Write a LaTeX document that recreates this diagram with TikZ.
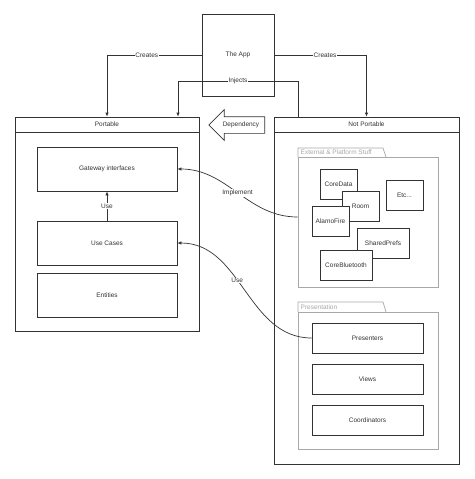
\documentclass[tikz,border=0pt]{standalone}
\usepackage{fontspec}
\setmainfont{Liberation Sans}
\usetikzlibrary{positioning}
\usetikzlibrary{arrows.meta,shapes.arrows}

\definecolor{lnc}{HTML}{333333}
\definecolor{grpc}{HTML}{A8A8A8}
\definecolor{txtc}{HTML}{333333}

\begin{document}
\begin{tikzpicture}[x=1pt,y=-1pt,
 every node/.style={font=\fontsize{6.5}{8}\selectfont,text=txtc},
 box/.style={draw=lnc,fill=white,line width=0.7pt,inner sep=0pt},
 sbox/.style={box,minimum width=37pt,minimum height=30pt},
 wbox/.style={box,minimum width=52pt,minimum height=30pt},
 pbox/.style={box,minimum width=111pt,minimum height=30pt},
 cbox/.style={box,minimum width=140pt,minimum height=44pt},
 grpbox/.style={draw=grpc,line width=0.7pt,inner sep=0pt,minimum width=140pt},
 grptab/.style={draw=grpc,line width=0.7pt},
 tablbl/.style={text=grpc,anchor=west,inner sep=0pt},
 conn/.style={draw=lnc,line width=0.7pt,-{Latex[length=4pt,width=3.5pt]}},
 lbl/.style={fill=white,inner sep=0.5pt}
]
 \useasboundingbox (0,0) rectangle (474,479);

 % the app on top
 \node[box,minimum width=72pt,minimum height=82pt] (app) at (238,55) {The App};

 % portable side
 \node[box,minimum width=184pt,minimum height=199pt] (portbody) at (107,231.5) {};
 \node[box,minimum width=184pt,minimum height=15pt] (portable) at (107,124.5) {Portable};
 \node[cbox] (gateway) at (107,169) {Gateway interfaces};
 \node[cbox] (usecases) at (107,243) {Use Cases};
 \node[cbox] (entities) at (107,295) {Entities};

 % dependency arrow
 \node[draw=lnc,line width=0.7pt,single arrow,shape border rotate=180,
   minimum height=56pt,single arrow head extend=7pt,single arrow head indent=0pt,
   inner xsep=2pt,inner ysep=5pt,text height=4.5pt,text depth=1.5pt] (dep) at (241,125) {Dependency};

 % not portable side
 \node[box,minimum width=185pt,minimum height=332pt] (npbody) at (366.5,298) {};
 \node[box,minimum width=185pt,minimum height=15pt] (notportable) at (366.5,124.5) {Not Portable};

 % external & platform stuff
 \draw[grptab] (298,157) -- (298,148) -- (383,148) -- (386,157);
 \node[tablbl] (exttab) at (300.5,152.5) {External \& Platform Stuff};
 \node[grpbox,minimum height=130pt] (ext) at (368,222) {};
 \node[sbox] (coredata) at (338.5,184) {CoreData};
 \node[sbox] (room) at (360.5,206) {Room};
 \node[sbox] (alamofire) at (330.5,221) {AlamoFire};
 \node[sbox] (etc) at (404.5,195) {Etc...};
 \node[wbox] (sharedprefs) at (383,243) {SharedPrefs};
 \node[wbox] (corebt) at (346,265) {CoreBluetooth};

 % presentation
 \draw[grptab] (298,312) -- (298,302) -- (383,302) -- (386,312);
 \node[tablbl] (prestab) at (300.5,307) {Presentation};
 \node[grpbox,minimum height=137pt] (pres) at (368,380.5) {};
 \node[pbox] (presenters) at (367.5,338) {Presenters};
 \node[pbox] (views) at (367.5,379) {Views};
 \node[pbox] (coordinators) at (367.5,420) {Coordinators};

 % connectors
 \coordinate (inj1) at (298,81);
 \coordinate (inj2) at (178,81);
 \draw[conn] (app.west) -- node[lbl,pos=0.58]{Creates} (app.west -| portable.north) -- (portable.north);
 \draw[conn] (app.east) -- node[lbl,pos=0.55]{Creates} (app.east -| notportable.north) -- (notportable.north);
 \draw[conn] (notportable.north -| inj1) -- (inj1) -- node[lbl]{Injects} (inj2) -- (inj2 |- portable.north);
 \draw[conn] (usecases) -- node[lbl]{Use} (gateway);
 \draw[conn] ([yshift=5pt]ext.west) to[out=180,in=0] node[lbl]{Implement} (gateway.east);
 \draw[conn] (presenters.west) to[out=180,in=0] node[lbl,pos=0.57]{Use} (usecases.east);
\end{tikzpicture}
\end{document}
